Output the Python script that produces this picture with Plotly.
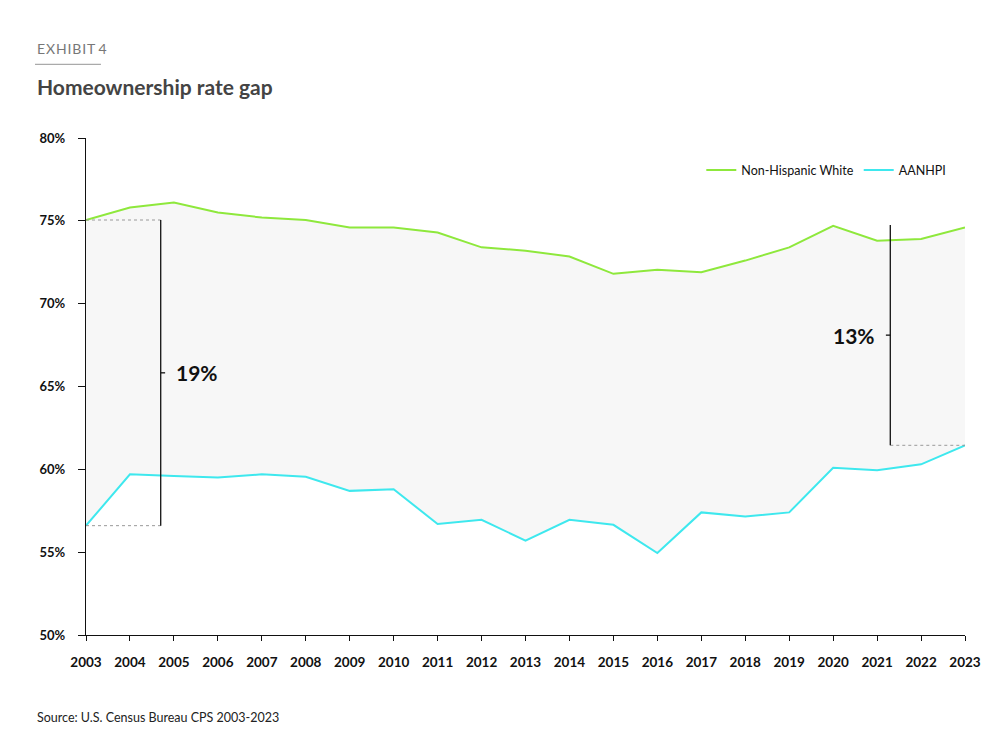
import plotly.graph_objects as go

years = list(range(2003, 2024))
white = [75.05, 75.8, 76.1, 75.5, 75.2, 75.05, 74.6, 74.6, 74.3, 73.4, 73.2,
         72.85, 71.8, 72.05, 71.9, 72.6, 73.4, 74.7, 73.8, 73.9, 74.6]
aanhpi = [56.6, 59.7, 59.6, 59.5, 59.7, 59.55, 58.7, 58.8, 56.7, 56.95, 55.7,
          56.95, 56.65, 54.95, 57.4, 57.15, 57.4, 60.1, 59.95, 60.3, 61.45]
y_ticks = [50, 55, 60, 65, 70, 75, 80]
y_tick_labels = ["50%", "55%", "60%", "65%", "70%", "75%", "80%"]
gap_labels = ["19%", "13%"]

GREEN = "#8ee83c"
CYAN = "#3ee8ee"
FONT = "Lato"

fig = go.Figure()

# fill between lines
fig.add_trace(go.Scatter(x=years, y=aanhpi, mode="lines", line=dict(width=0),
                         showlegend=False, hoverinfo="skip"))
fig.add_trace(go.Scatter(x=years, y=white, mode="lines", line=dict(width=0),
                         fill="tonexty", fillcolor="#f7f7f7",
                         showlegend=False, hoverinfo="skip"))

fig.add_trace(go.Scatter(x=years, y=white, mode="lines", name="Non-Hispanic White",
                         line=dict(color=GREEN, width=2)))
fig.add_trace(go.Scatter(x=years, y=aanhpi, mode="lines", name="AANHPI",
                         line=dict(color=CYAN, width=2)))

shapes = []
# left gap marker
xl = 2004.7
shapes += [
    dict(type="line", x0=years[0], x1=xl, y0=white[0], y1=white[0],
         line=dict(color="#999", width=1, dash="dot")),
    dict(type="line", x0=years[0], x1=xl, y0=aanhpi[0], y1=aanhpi[0],
         line=dict(color="#999", width=1, dash="dot")),
    dict(type="line", x0=xl, x1=xl, y0=aanhpi[0], y1=white[0],
         line=dict(color="#111", width=1.3)),
]
midl = (white[0] + aanhpi[0]) / 2
shapes.append(dict(type="line", xref="x", x0=xl, x1=xl + 0.1, y0=midl, y1=midl,
                   line=dict(color="#111", width=1.3)))
# right gap marker
xr = 2021.3
top_r = 74.75
shapes += [
    dict(type="line", x0=xr, x1=years[-1], y0=aanhpi[-1], y1=aanhpi[-1],
         line=dict(color="#999", width=1, dash="dot")),
    dict(type="line", x0=xr, x1=xr, y0=aanhpi[-1], y1=top_r,
         line=dict(color="#111", width=1.3)),
]
midr = (top_r + aanhpi[-1]) / 2
shapes.append(dict(type="line", x0=xr - 0.1, x1=xr, y0=midr, y1=midr,
                   line=dict(color="#111", width=1.3)))
# underline under EXHIBIT 4
shapes.append(dict(type="line", xref="paper", yref="paper",
                   x0=-0.058, x1=0.017, y0=1.148, y1=1.148,
                   line=dict(color="#aaaaaa", width=1.3)))

annotations = [
    dict(x=xl + 0.3, y=midl, text="<b>" + gap_labels[0] + "</b>", showarrow=False,
         xanchor="left", yanchor="middle", font=dict(family=FONT, size=21, color="#111")),
    dict(x=xr - 0.3, y=midr, text="<b>" + gap_labels[1] + "</b>", showarrow=False,
         xanchor="right", yanchor="middle", font=dict(family=FONT, size=21, color="#111")),
    dict(x=-0.058, y=1.18, xref="paper", yref="paper", text="E X H I B I T  4".replace(" ", "\u200a").replace("\u200a\u200a", " "),
         showarrow=False, xanchor="left", yanchor="middle",
         font=dict(family=FONT, size=14, color="#777")),
    dict(x=-0.058, y=1.103, xref="paper", yref="paper", text="<b>Homeownership rate gap</b>",
         showarrow=False, xanchor="left", yanchor="middle",
         font=dict(family=FONT, size=21, color="#444")),
    dict(x=-0.058, y=-0.167, xref="paper", yref="paper",
         text="Source: U.S. Census Bureau CPS 2003-2023",
         showarrow=False, xanchor="left", yanchor="middle",
         font=dict(family=FONT, size=12.5, color="#222")),
]

fig.update_layout(
    width=1000, height=749,
    margin=dict(l=86, r=35, t=138, b=114),
    paper_bgcolor="white", plot_bgcolor="white",
    font=dict(family=FONT, color="#111"),
    shapes=shapes, annotations=annotations,
    legend=dict(orientation="h", x=0.7, y=0.935, xanchor="left", yanchor="middle",
                traceorder="normal",
                font=dict(family=FONT, size=12.5, color="#111"), bgcolor="rgba(0,0,0,0)"),
    showlegend=True,
)
fig.update_xaxes(range=[2003, 2023], tickvals=years, ticktext=["<b>" + str(y) + "</b>" for y in years],
                 showgrid=False, zeroline=False, showline=True, linecolor="#111", linewidth=1.3,
                 ticks="outside", ticklen=5, tickcolor="#111", tickwidth=1.3,
                 ticklabelstandoff=10,
                 tickfont=dict(family=FONT, size=13.5, color="#111"))
fig.update_yaxes(range=[50, 80], tickvals=y_ticks, ticktext=["<b>" + t + "</b>" for t in y_tick_labels],
                 showgrid=False, zeroline=False, showline=True, linecolor="#111", linewidth=1.3,
                 ticks="outside", ticklen=7, tickcolor="#111", tickwidth=1.3,
                 ticklabelstandoff=10,
                 tickfont=dict(family=FONT, size=13, color="#111"))

fig.write_html("out.html")
